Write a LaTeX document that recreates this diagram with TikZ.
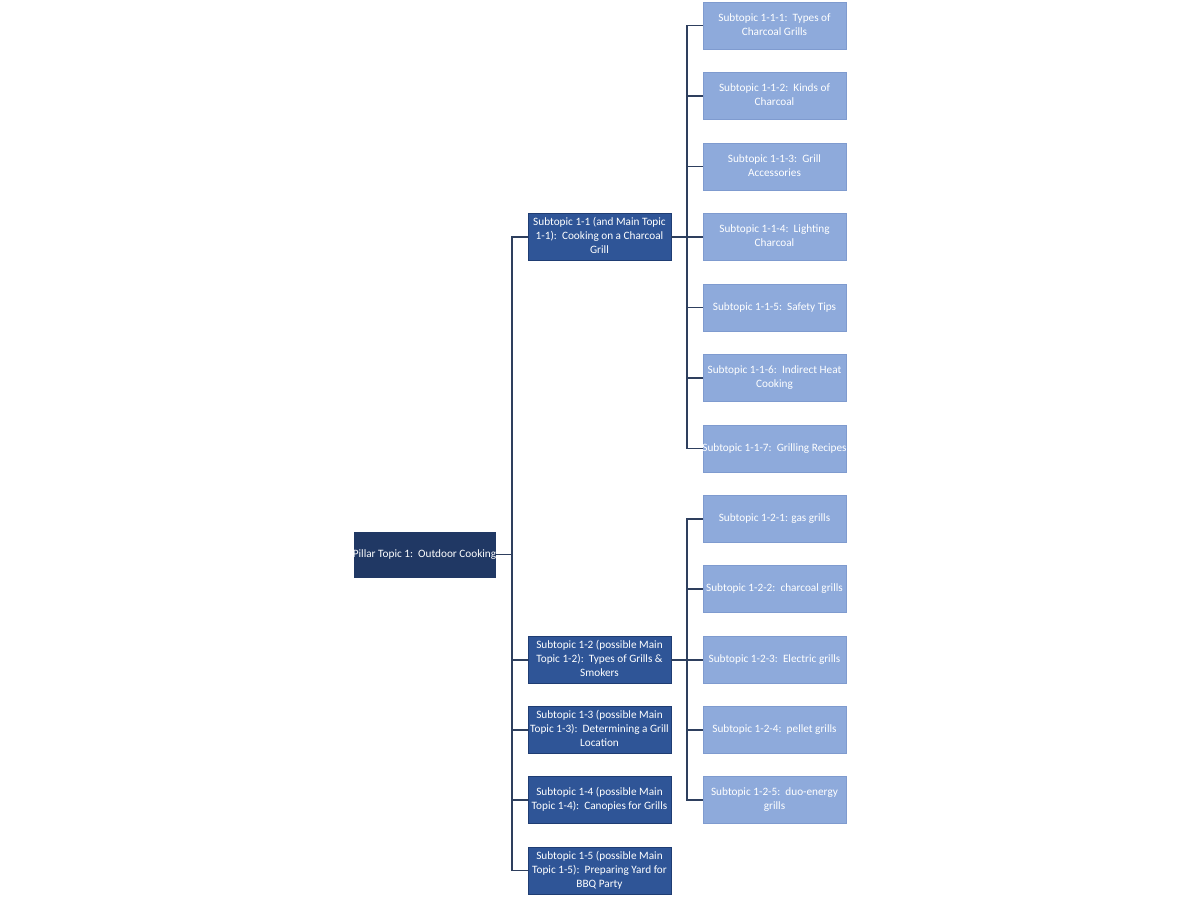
\documentclass[tikz,border=0pt]{standalone}
\usepackage{fontspec}
\setmainfont{Carlito}
\newcommand{\boxtxt}[1]{\makebox[0pt][c]{\begin{tabular}{@{}c@{}}#1\end{tabular}}}
\begin{document}
\begin{tikzpicture}[x=0.25mm,y=-0.25mm,
  box/.style={rectangle,inner sep=0pt,minimum width=35.75mm,minimum height=11.8mm,align=center,text=white,font=\fontsize{8}{10}\selectfont},
  pillar/.style={box,fill=pillarc,draw=white,line width=0.4pt},
  sub/.style={box,fill=subc,draw=subb,line width=0.4pt},
  leaf/.style={box,fill=leafc,draw=leafb,line width=0.4pt},
  conn/.style={draw=connc,line width=1.2pt}]
\definecolor{pillarc}{HTML}{203864}
\definecolor{subc}{HTML}{2F5597}
\definecolor{subb}{HTML}{1F3D73}
\definecolor{leafc}{HTML}{8EAADB}
\definecolor{leafb}{HTML}{7F9BCF}
\definecolor{connc}{HTML}{2E3F5E}
\useasboundingbox (0,0) rectangle (1200,900);
\fill[white] (0,0) rectangle (1200,900);
\renewcommand{\arraystretch}{1.0}

\node[pillar] (p) at (424.5,554.5) {\boxtxt{Pillar Topic 1:\ \ Outdoor Cooking}};

\node[sub] (s1) at (599.5,237) {\boxtxt{Subtopic 1-1 (and Main Topic\\1-1):\ \ Cooking on a Charcoal\\Grill}};
\node[sub] (s2) at (599.5,660) {\boxtxt{Subtopic 1-2 (possible Main\\Topic 1-2):\ \ Types of Grills \&\\Smokers}};
\node[sub] (s3) at (599.5,730) {\boxtxt{Subtopic 1-3 (possible Main\\Topic 1-3):\ \ Determining a Grill\\Location}};
\node[sub] (s4) at (599.5,800) {\boxtxt{Subtopic 1-4 (possible Main\\Topic 1-4):\ \ Canopies for Grills}};
\node[sub] (s5) at (599.5,870.5) {\boxtxt{Subtopic 1-5 (possible Main\\Topic 1-5):\ \ Preparing Yard for\\BBQ Party}};

\node[leaf] (a1) at (774.5,25.5) {\boxtxt{Subtopic 1-1-1:\ \ Types of\\Charcoal Grills}};
\node[leaf] (a2) at (774.5,96) {\boxtxt{Subtopic 1-1-2:\ \ Kinds of\\Charcoal}};
\node[leaf] (a3) at (774.5,166.5) {\boxtxt{Subtopic 1-1-3:\ \ Grill\\Accessories}};
\node[leaf] (a4) at (774.5,237) {\boxtxt{Subtopic 1-1-4:\ \ Lighting\\Charcoal}};
\node[leaf] (a5) at (774.5,307.5) {\boxtxt{Subtopic 1-1-5:\ \ Safety Tips}};
\node[leaf] (a6) at (774.5,378) {\boxtxt{Subtopic 1-1-6:\ \ Indirect Heat\\Cooking}};
\node[leaf] (a7) at (774.5,448.5) {\boxtxt{Subtopic 1-1-7:\ \ Grilling Recipes}};

\node[leaf] (b1) at (774.5,519) {\boxtxt{Subtopic 1-2-1: gas grills}};
\node[leaf] (b2) at (774.5,589) {\boxtxt{Subtopic 1-2-2:\ \ charcoal grills}};
\node[leaf] (b3) at (774.5,660) {\boxtxt{Subtopic 1-2-3:\ \ Electric grills}};
\node[leaf] (b4) at (774.5,730) {\boxtxt{Subtopic 1-2-4:\ \ pellet grills}};
\node[leaf] (b5) at (774.5,800) {\boxtxt{Subtopic 1-2-5:\ \ duo-energy\\grills}};

\coordinate (t0) at (512,554.5);
\coordinate (t1) at (687,237);
\coordinate (t2) at (687,660);

\draw[conn] (p.east) -- (t0);
\foreach \n in {s1,s2,s3,s4,s5} \draw[conn] (t0) |- (\n.west);
\draw[conn] (s1.east) -- (t1);
\foreach \n in {a1,a2,a3,a4,a5,a6,a7} \draw[conn] (t1) |- (\n.west);
\draw[conn] (s2.east) -- (t2);
\foreach \n in {b1,b2,b3,b4,b5} \draw[conn] (t2) |- (\n.west);
\end{tikzpicture}
\end{document}
